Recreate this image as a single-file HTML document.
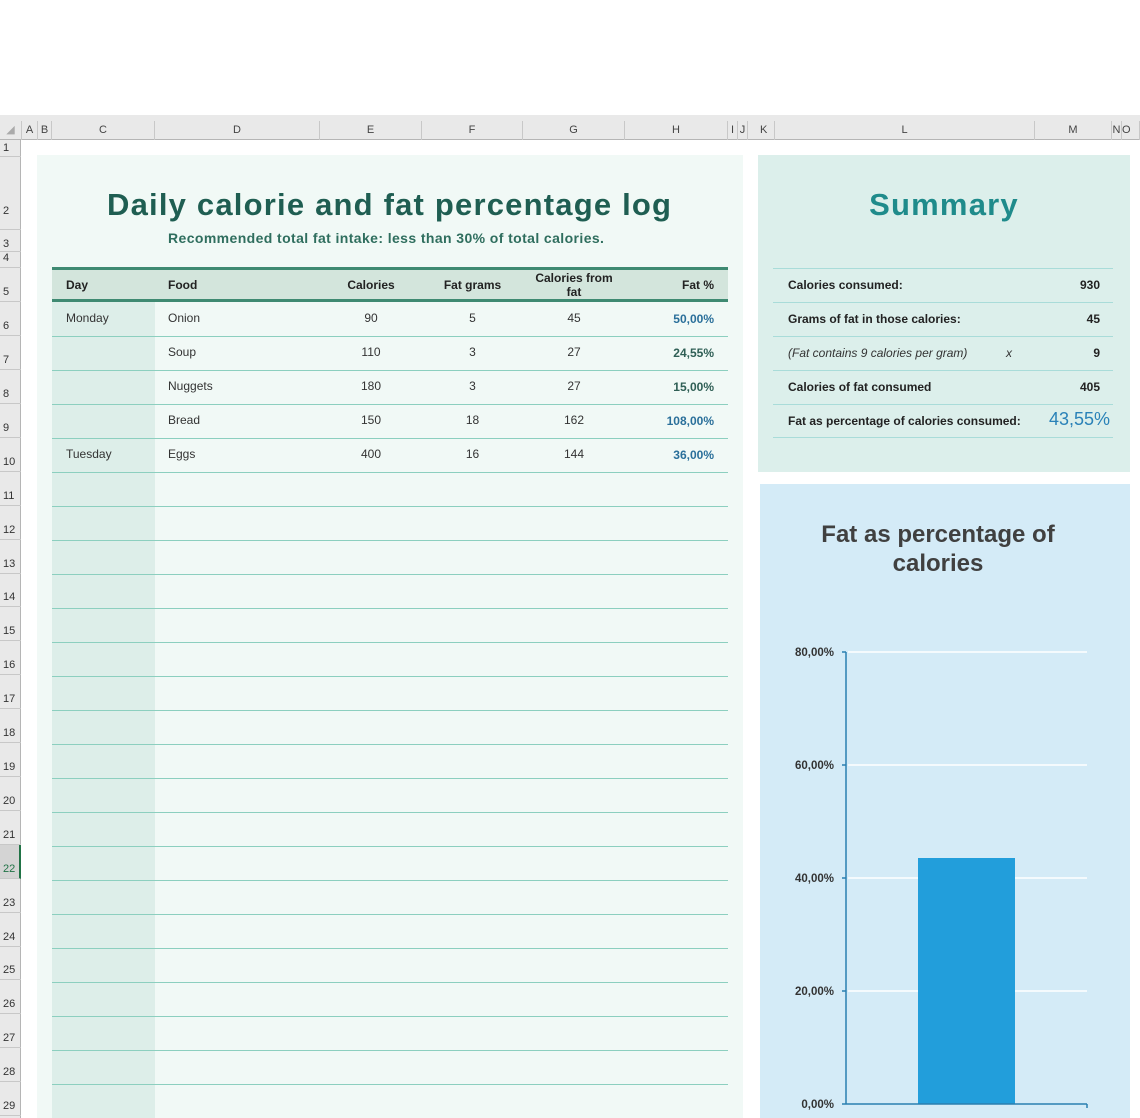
<!DOCTYPE html>
<html><head><meta charset="utf-8"><style>
*{margin:0;padding:0;box-sizing:border-box}
body{width:1140px;height:1118px;background:#fff;position:relative;overflow:hidden;font-family:"Liberation Sans",Arial,sans-serif;color:#222}
.a{position:absolute;white-space:nowrap}
.ch{position:absolute;top:121px;height:19px;font-size:11px;color:#444;text-align:center;line-height:19px;border-right:1px solid #c8c8c8}
.rh{position:absolute;left:0;width:21px;font-size:11px;color:#333;padding-left:3px;border-bottom:1px solid #c8c8c8}
.t{position:absolute;font-size:12px;color:#333}
.c{text-align:center}.r{text-align:right}
.sl{position:absolute;left:773px;width:340px;height:1px;background:#a9dcd9}
.s{position:absolute;font-size:12px;font-weight:bold;color:#222}
</style></head><body>
<div class="a" style="left:0;top:115px;width:1140px;height:25px;background:#e9e9e9;border-bottom:1px solid #b5b5b5"></div>
<div class="a" style="left:0;top:140px;width:21px;height:978px;background:#e9e9e9;border-right:1px solid #b5b5b5"></div>
<div class="ch" style="left:0;width:22px;color:#aaa">◢</div>
<div class="ch" style="left:22px;width:16px">A</div>
<div class="ch" style="left:38px;width:14px">B</div>
<div class="ch" style="left:52px;width:103px">C</div>
<div class="ch" style="left:155px;width:165px">D</div>
<div class="ch" style="left:320px;width:102px">E</div>
<div class="ch" style="left:422px;width:101px">F</div>
<div class="ch" style="left:523px;width:102px">G</div>
<div class="ch" style="left:625px;width:103px">H</div>
<div class="ch" style="left:728px;width:10px">I</div>
<div class="ch" style="left:738px;width:10px">J</div>
<div class="ch" style="left:748px;width:27px;text-align:left;padding-left:12px">K</div>
<div class="ch" style="left:775px;width:260px">L</div>
<div class="ch" style="left:1035px;width:77px">M</div>
<div class="ch" style="left:1112px;width:10px">N</div>
<div class="ch" style="left:1122px;width:18px;text-align:left">O</div>
<div class="rh" style="top:140px;height:17px;line-height:17px">1</div>
<div class="rh" style="top:157px;height:73px;padding-top:48px">2</div>
<div class="rh" style="top:230px;height:22px;padding-top:8px">3</div>
<div class="rh" style="top:252px;height:16px;line-height:12px">4</div>
<div class="rh" style="top:268px;height:34px;padding-top:18px">5</div>
<div class="a" style="left:37px;top:155px;width:706px;height:963px;background:#f1f9f6"></div>
<div class="a" style="left:52px;top:268px;width:103px;height:850px;background:#ddeee9"></div>
<div class="a" style="left:52px;top:267px;width:676px;height:35px;background:#d3e5dc;border-top:3px solid #3f8a72;border-bottom:3px solid #3f8a72"></div>
<div class="a" style="left:52px;top:336px;width:676px;height:782px;background:repeating-linear-gradient(to bottom,#8ccfbf 0,#8ccfbf 1px,transparent 1px,transparent 34px)"></div>
<div class="a" style="left:107px;top:187px;font-size:31px;font-weight:bold;color:#1f5e52;letter-spacing:1.2px">Daily calorie and fat percentage log</div>
<div class="a" style="left:168px;top:230px;font-size:14px;font-weight:bold;color:#2f6e5e;letter-spacing:0.4px">Recommended total fat intake: less than 30% of total calories.</div>
<div class="t" style="left:66px;top:278px;font-weight:bold;color:#222">Day</div>
<div class="t" style="left:168px;top:278px;font-weight:bold;color:#222">Food</div>
<div class="t c" style="left:320px;width:102px;top:278px;font-weight:bold;color:#222">Calories</div>
<div class="t c" style="left:422px;width:101px;top:278px;font-weight:bold;color:#222">Fat grams</div>
<div class="t c" style="left:523px;width:102px;top:271px;font-weight:bold;color:#222;line-height:14px;white-space:normal">Calories from<br>fat</div>
<div class="t r" style="left:625px;width:89px;top:278px;font-weight:bold;color:#222">Fat %</div>
<div class="t" style="left:66px;top:311px">Monday</div>
<div class="t" style="left:66px;top:447px">Tuesday</div>
<div class="t" style="left:168px;top:311px">Onion</div><div class="t" style="left:168px;top:345px">Soup</div><div class="t" style="left:168px;top:379px">Nuggets</div><div class="t" style="left:168px;top:413px">Bread</div><div class="t" style="left:168px;top:447px">Eggs</div>
<div class="t c" style="left:320px;width:102px;top:311px">90</div><div class="t c" style="left:320px;width:102px;top:345px">110</div><div class="t c" style="left:320px;width:102px;top:379px">180</div><div class="t c" style="left:320px;width:102px;top:413px">150</div><div class="t c" style="left:320px;width:102px;top:447px">400</div>
<div class="t c" style="left:422px;width:101px;top:311px">5</div><div class="t c" style="left:422px;width:101px;top:345px">3</div><div class="t c" style="left:422px;width:101px;top:379px">3</div><div class="t c" style="left:422px;width:101px;top:413px">18</div><div class="t c" style="left:422px;width:101px;top:447px">16</div>
<div class="t c" style="left:523px;width:102px;top:311px">45</div><div class="t c" style="left:523px;width:102px;top:345px">27</div><div class="t c" style="left:523px;width:102px;top:379px">27</div><div class="t c" style="left:523px;width:102px;top:413px">162</div><div class="t c" style="left:523px;width:102px;top:447px">144</div>
<div class="t r" style="left:625px;width:89px;top:312px;font-weight:bold;color:#2a6f9a">50,00%</div>
<div class="t r" style="left:625px;width:89px;top:346px;font-weight:bold;color:#2f5f55">24,55%</div>
<div class="t r" style="left:625px;width:89px;top:380px;font-weight:bold;color:#2f5f55">15,00%</div>
<div class="t r" style="left:625px;width:89px;top:414px;font-weight:bold;color:#2a6f9a">108,00%</div>
<div class="t r" style="left:625px;width:89px;top:448px;font-weight:bold;color:#2a6f9a">36,00%</div>
<div class="a" style="left:758px;top:155px;width:372px;height:317px;background:#dcefeb"></div>
<div class="a" style="left:758px;top:187px;width:372px;text-align:center;font-size:31px;font-weight:bold;color:#1f8b8b;letter-spacing:1.2px">Summary</div>
<div class="sl" style="top:268px"></div><div class="sl" style="top:302px"></div><div class="sl" style="top:336px"></div><div class="sl" style="top:370px"></div><div class="sl" style="top:404px"></div><div class="sl" style="top:437px"></div>
<div class="s" style="left:788px;top:278px">Calories consumed:</div>
<div class="s" style="left:788px;top:312px">Grams of fat in those calories:</div>
<div class="s" style="left:788px;top:346px;font-weight:normal;font-style:italic;color:#333">(Fat contains 9 calories per gram)</div>
<div class="s" style="left:1006px;top:346px;font-weight:normal;font-style:italic;color:#333">x</div>
<div class="s" style="left:788px;top:380px">Calories of fat consumed</div>
<div class="s" style="left:788px;top:414px">Fat as percentage of calories consumed:</div>
<div class="s r" style="left:1000px;width:100px;top:278px">930</div>
<div class="s r" style="left:1000px;width:100px;top:312px">45</div>
<div class="s r" style="left:1000px;width:100px;top:346px">9</div>
<div class="s r" style="left:1000px;width:100px;top:380px">405</div>
<div class="s r" style="left:1000px;width:110px;top:409px;font-size:18px;font-weight:normal;color:#2a82b8">43,55%</div>
<div class="a" style="left:760px;top:484px;width:370px;height:634px;background:#d4ebf7"></div>
<svg class="a" style="left:0;top:0" width="1140" height="1118">
<g stroke="#ffffff" stroke-width="1.5">
<line x1="848" y1="652" x2="1087" y2="652"/><line x1="848" y1="765" x2="1087" y2="765"/><line x1="848" y1="878" x2="1087" y2="878"/><line x1="848" y1="991" x2="1087" y2="991"/></g>
<rect x="918" y="858" width="97" height="246" fill="#229edb"/>
<g stroke="#2a7fb0" stroke-width="1.5"><line x1="846" y1="652" x2="846" y2="1104"/><line x1="846" y1="1104" x2="1087" y2="1104"/><line x1="1087" y1="1104" x2="1087" y2="1108"/>
<line x1="842" y1="652" x2="846" y2="652"/><line x1="842" y1="765" x2="846" y2="765"/><line x1="842" y1="878" x2="846" y2="878"/><line x1="842" y1="991" x2="846" y2="991"/><line x1="842" y1="1104" x2="846" y2="1104"/></g>
<g font-family="Liberation Sans, Arial, sans-serif" font-size="11.5" font-weight="bold" fill="#333" text-anchor="end">
<text x="834" y="656">80,00%</text><text x="834" y="769">60,00%</text><text x="834" y="882">40,00%</text><text x="834" y="995">20,00%</text><text x="834" y="1108">0,00%</text></g>
<g font-family="Liberation Sans, Arial, sans-serif" font-size="24" font-weight="bold" fill="#404040" text-anchor="middle">
<text x="938" y="542">Fat as percentage of</text><text x="938" y="571">calories</text></g>
</svg>
<div class="rh" style="top:302px;height:34px;padding-top:18px">6</div>
<div class="rh" style="top:336px;height:34px;padding-top:18px">7</div>
<div class="rh" style="top:370px;height:34px;padding-top:18px">8</div>
<div class="rh" style="top:404px;height:34px;padding-top:18px">9</div>
<div class="rh" style="top:438px;height:34px;padding-top:18px">10</div>
<div class="rh" style="top:472px;height:34px;padding-top:18px">11</div>
<div class="rh" style="top:506px;height:34px;padding-top:18px">12</div>
<div class="rh" style="top:540px;height:34px;padding-top:18px">13</div>
<div class="rh" style="top:573px;height:34px;padding-top:18px">14</div>
<div class="rh" style="top:607px;height:34px;padding-top:18px">15</div>
<div class="rh" style="top:641px;height:34px;padding-top:18px">16</div>
<div class="rh" style="top:675px;height:34px;padding-top:18px">17</div>
<div class="rh" style="top:709px;height:34px;padding-top:18px">18</div>
<div class="rh" style="top:743px;height:34px;padding-top:18px">19</div>
<div class="rh" style="top:777px;height:34px;padding-top:18px">20</div>
<div class="rh" style="top:811px;height:34px;padding-top:18px">21</div>
<div class="rh" style="top:845px;height:34px;padding-top:18px;background:#d4d4d4;color:#217346;border-right:2px solid #217346">22</div>
<div class="rh" style="top:879px;height:34px;padding-top:18px">23</div>
<div class="rh" style="top:913px;height:34px;padding-top:18px">24</div>
<div class="rh" style="top:946px;height:34px;padding-top:18px">25</div>
<div class="rh" style="top:980px;height:34px;padding-top:18px">26</div>
<div class="rh" style="top:1014px;height:34px;padding-top:18px">27</div>
<div class="rh" style="top:1048px;height:34px;padding-top:18px">28</div>
<div class="rh" style="top:1082px;height:34px;padding-top:18px">29</div>
</body></html>
